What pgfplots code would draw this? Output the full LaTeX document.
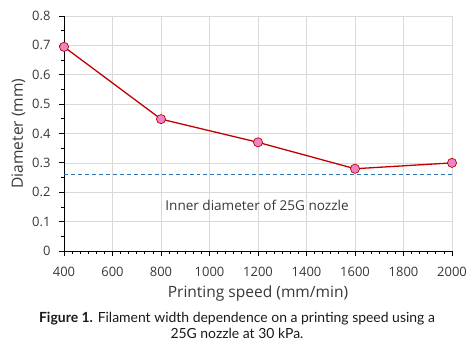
\documentclass[border=0pt]{standalone}
\usepackage{pgfplots}
\pgfplotsset{compat=1.18}
\usepackage{fontspec}
\setmainfont{Open Sans}
\newfontfamily\capfont{Lato}
\definecolor{linered}{HTML}{C00000}
\definecolor{markpink}{HTML}{E986C8}
\definecolor{dashblue}{HTML}{2E75B6}
\begin{document}
\begin{tikzpicture}
\begin{axis}[
  scale only axis,
  width=388bp, height=235bp,
  xmin=400, xmax=2000, ymin=0, ymax=0.8,
  xtick={400,600,...,2000},
  ytick={0,0.1,...,0.8},
  yticklabels={0,0.1,0.2,0.3,0.4,0.5,0.6,0.7,0.8},
  minor x tick num=5,
  minor y tick num=1,
  tick align=outside,
  major tick length=5bp, minor tick length=3bp,
  tick style={black, line width=0.8pt},
  axis x line*=bottom, axis y line*=left,
  axis line style={black, line width=0.8pt, -},
  grid=major,
  major grid style={gray!30, line width=0.6pt},
  /pgf/number format/assume math mode=true,
  /pgf/number format/1000 sep={},
  ticklabel style={font=\fontsize{13}{15}\selectfont, text=black!78},
  yticklabel style={xshift=-5bp},
  xticklabel style={yshift=-8bp},
  xlabel={Printing speed (mm/min)},
  ylabel={Diameter (mm)},
  label style={font=\fontsize{15.6}{18}\selectfont, text=black!78},
  xlabel style={yshift=-2bp},
  ylabel style={yshift=0bp},
  clip=false,
]
\addplot[dashblue, dashed, line width=0.8pt, dash pattern=on 4pt off 3pt] coordinates {(400,0.262) (2000,0.262)};
\addplot[linered, line width=1.3pt, mark=*, mark size=4.6pt,
  mark options={fill=markpink, draw=linered, line width=0.7pt}] coordinates {
  (400,0.695) (800,0.449) (1200,0.370) (1600,0.280) (2000,0.300)};
\node[font=\fontsize{13.6}{16}\selectfont, text=black!78] at (axis cs:1196,0.157) {Inner diameter of 25G nozzle};
\node[font=\capfont\fontsize{14}{15.5}\selectfont, align=center, text=black!90] at ([xshift=-21bp,yshift=-74.5bp]rel axis cs:0.5,0)
  {\textbf{Figure 1.} Filament width dependence on a printing speed using a\\25G nozzle at 30 kPa.};
\path ([xshift=-64bp,yshift=-100bp]rel axis cs:0,0) rectangle ([xshift=22bp,yshift=16bp]rel axis cs:1,1);
\end{axis}
\end{tikzpicture}
\end{document}
